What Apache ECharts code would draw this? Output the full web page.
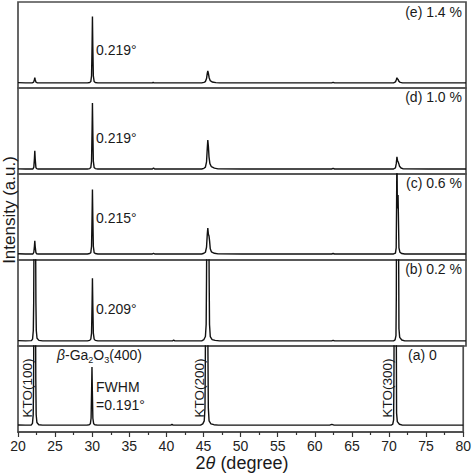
<!DOCTYPE html>
<html><head><meta charset="utf-8">
<script src="https://cdn.jsdelivr.net/npm/echarts@6/dist/echarts.min.js"></script>
<style>html,body{margin:0;padding:0;background:#fff}#c{width:474px;height:475px}</style>
</head><body><div id="c"></div>
<script>
// x-axis ticks
const xTicks = [20,25,30,35,40,45,50,55,60,65,70,75,80];
const panelNames = ['(e) 1.4 %','(d) 1.0 %','(c) 0.6 %','(b) 0.2 %','(a) 0'];
const fwhmLabels = ['0.219°','0.219°','0.215°','0.209°',''];
// [2theta, relative intensity] (panel scale 0-100, peaks above 100 are clipped)
const curveE = [[20,6.2],[21,6],[21.9,6],[22.1,6.8],[22.2,10],[22.25,12],[22.3,10],[22.4,6.8],[22.6,6],[24,6],[26,6],[28,6],
 [29.3,6],[29.6,6.4],[29.75,7.5],[29.85,14],[29.92,48],[29.97,83],[30.02,48],[30.09,14],[30.2,7.5],[30.35,6.4],[30.7,6],[33,6],[36,6],
 [38,6],[38.1,6.5],[38.2,6],[41,6],
 [44.6,6],[44.9,6.6],[45.1,7.5],[45.25,11],[45.35,17],[45.42,20],[45.5,17],[45.6,12],[45.75,8.5],[46,7],[46.5,6.2],[47,6],[50,6],[55,6],[58,6],
 [62,6],[62.2,6.6],[62.4,6],[65,6],[68,6],
 [70.3,6],[70.55,7],[70.68,10],[70.75,12],[70.82,10.5],[70.9,10],[71,8],[71.2,6.5],[71.5,6],[75,6],[80,6]];
const curveD = [[20,6],[21,5.8],[22,5.8],[22.12,8],[22.2,18],[22.25,27],[22.3,18],[22.4,7.5],[22.5,6.2],[22.7,5.8],[24,5.8],[26,5.8],[28,5.8],
 [29.3,5.8],[29.6,6.3],[29.75,7.5],[29.85,15],[29.92,50],[29.97,82.6],[30.02,50],[30.09,15],[30.2,7.5],[30.35,6.3],[30.7,5.8],[33,5.8],[36,5.8],
 [38,5.8],[38.15,7],[38.3,5.8],[41,5.8],
 [44.6,5.8],[44.9,6.6],[45.1,8],[45.25,14],[45.35,30],[45.42,39.5],[45.5,32],[45.58,20],[45.7,12],[45.9,8.5],[46.3,6.8],[46.8,6],[50,5.8],[55,5.8],[58,5.8],
 [62,5.8],[62.2,6.5],[62.4,5.8],[65,5.8],[68,5.8],
 [70.3,5.8],[70.55,7],[70.66,12],[70.75,20],[70.84,15],[70.92,14],[71,12],[71.1,9],[71.3,7],[71.6,6],[75,5.8],[80,5.8]];
const curveC = [[20,7.2],[21,7],[22,7],[22.12,9],[22.2,16],[22.25,22.4],[22.3,16],[22.4,8.5],[22.5,7.3],[22.7,7],[24,7],[26,7],[28,7],
 [29.3,7],[29.6,7.5],[29.75,8.5],[29.85,16],[29.92,50],[29.97,82],[30.02,50],[30.09,16],[30.2,8.5],[30.35,7.5],[30.7,7],[33,7],[36,7],
 [38,7],[38.15,7.6],[38.3,7],[41,7],
 [44.6,7],[44.9,7.8],[45.1,9],[45.25,15],[45.35,30],[45.42,37],[45.5,30],[45.58,28],[45.66,22],[45.75,13],[45.9,9.5],[46.3,7.8],[46.8,7.1],[50,7],[55,7],[58,7],
 [62,7],[62.2,7.6],[62.4,7],[65,7],[68,7],
 [70.3,7],[70.55,8],[70.65,14],[70.7,60],[70.75,130],[70.8,70],[70.85,60],[70.9,75.6],[70.95,50],[71.02,14],[71.15,9],[71.4,7.5],[71.8,7],[75,7],[80,7]];
const curveB = [[20,6.2],[21,6],[21.8,6.2],[21.95,8],[22.05,18],[22.1,50],[22.15,140],[22.25,250],[22.35,140],[22.4,50],[22.45,18],[22.55,9],[22.8,6.5],[23.3,6],[26,6],[28,6],
 [29.3,6],[29.6,6.5],[29.75,8],[29.85,15],[29.92,48],[29.97,78.7],[30.02,48],[30.09,15],[30.2,8],[30.35,6.5],[30.7,6],[33,6],[37,6],
 [40.7,6],[40.85,6.7],[41,6],[43,6],
 [44.6,6],[44.9,7.5],[45.1,11],[45.2,25],[45.25,80],[45.3,160],[45.42,300],[45.55,160],[45.6,80],[45.65,25],[45.75,11],[46,7.5],[46.4,6.5],[47,6],[50,6],[55,6],[58,6],
 [62,6],[62.2,6.6],[62.4,6],[65,6],[68,6],
 [70.3,6],[70.5,7],[70.62,12],[70.67,60],[70.72,250],[70.78,300],[70.84,200],[70.9,250],[70.96,150],[71.02,20],[71.12,10],[71.4,7],[71.8,6],[75,6],[80,6]];
const curveA = [[20,8.2],[21,8],[21.8,8.2],[21.95,10],[22.05,20],[22.1,60],[22.16,180],[22.25,300],[22.34,180],[22.4,60],[22.45,20],[22.55,11],[22.8,8.5],[23.3,8],[26,8],[28,8],
 [29.3,8],[29.6,8.4],[29.75,9.5],[29.85,16],[29.92,48],[29.97,75.6],[30.02,48],[30.09,16],[30.2,9.5],[30.35,8.4],[30.7,8],[33,8],[37,8],
 [40.6,8],[40.75,8.8],[40.9,8],[43,8],
 [44.6,8],[44.9,9.5],[45.1,13],[45.2,28],[45.25,90],[45.3,200],[45.42,400],[45.55,200],[45.6,90],[45.65,28],[45.75,13],[46,9.5],[46.4,8.5],[47,8],[50,8],[55,8],[58,8],
 [62,8],[62.3,8.8],[62.6,8],[65,8],[68,8],
 [70.3,8],[70.5,9],[70.62,14],[70.67,70],[70.72,300],[70.78,400],[70.84,250],[70.9,300],[70.96,180],[71.02,22],[71.12,12],[71.4,9],[71.8,8],[75,8],[80,8]];
const curves = [curveE, curveD, curveC, curveB, curveA];

const chart = echarts.init(document.getElementById('c'), null, {renderer:'svg'});
const font = 'Liberation Sans, Arial, sans-serif';
const top0 = 2, ph = 86, L = 18, R = 8;
const grids = [], xAxes = [], yAxes = [], series = [];
for (let i = 0; i < 5; i++) {
  const last = i === 4;
  grids.push({left: L, right: R, top: top0 + i*ph, height: ph, show: true, borderColor: '#4d4d4d', borderWidth: 1.7, backgroundColor: 'transparent'});
  xAxes.push({gridIndex: i, type: 'value', min: xTicks[0], max: xTicks[xTicks.length-1], interval: 5,
    axisLine: {show: last, onZero: false, lineStyle: {color: '#444', width: 1.7}},
    axisTick: {show: last, inside: false, length: 5, lineStyle: {color: '#333', width: 1.2}},
    minorTick: {show: last, splitNumber: 2, length: 3, lineStyle: {color: '#333', width: 1.2}},
    axisLabel: {show: last, color: '#222', fontSize: 14, fontFamily: font, margin: 7},
    splitLine: {show: false}, minorSplitLine: {show: false}});
  yAxes.push({gridIndex: i, type: 'value', min: 0, max: 100, show: false, splitLine: {show: false}});
  series.push({type: 'line', xAxisIndex: i, yAxisIndex: i, data: curves[i], symbol: 'none', clip: true,
    lineStyle: {color: '#111', width: 1.4}, animation: false});
}
const graphic = [];
const txt = (x, y, text, opts) => Object.assign({type: 'text', x: x, y: y, z: 100,
  style: Object.assign({text: text, font: '14px ' + font, fill: '#1a1a1a', textVerticalAlign: 'middle'}, opts || {})});
const panelY = [12, 97, 183, 269, 355];
for (let i = 0; i < 5; i++) {
  if (i < 4) graphic.push(txt(462, panelY[i], panelNames[i], {textAlign: 'right'}));
  else graphic.push(txt(408, panelY[i], panelNames[i], {textAlign: 'left'}));
}
const fwY = [50, 138, 218, 309];
for (let i = 0; i < 4; i++) graphic.push(txt(96, fwY[i], fwhmLabels[i], {textAlign: 'left'}));
graphic.push(txt(57, 355, '{i|β}-Ga{s|2}O{s|3}(400)', {textAlign: 'left', rich: {
  i: {fontStyle: 'italic', fontSize: 14, fontFamily: font, lineHeight: 18, fill: '#1a1a1a'},
  s: {fontSize: 9, fontFamily: font, verticalAlign: 'bottom', lineHeight: 9, fill: '#1a1a1a'}}}));
graphic.push(txt(96, 387, 'FWHM', {textAlign: 'left'}));
graphic.push(txt(96, 405, '=0.191°', {textAlign: 'left'}));
const kto = [['KTO(100)', 27], ['KTO(200)', 199], ['KTO(300)', 387]];
kto.forEach(k => {
  const g = txt(k[1], 388, k[0], {textAlign: 'center', font: '13.5px ' + font});
  g.rotation = Math.PI / 2;
  graphic.push(g);
});
const yl = txt(9, 210, 'Intensity (a.u.)', {textAlign: 'center', font: '17px ' + font});
yl.rotation = Math.PI / 2;
graphic.push(yl);
graphic.push(txt(242, 463, '2{i|θ} (degree)', {textAlign: 'center', font: '18px ' + font, rich: {
  i: {fontStyle: 'italic', fontSize: 18, fontFamily: font, fill: '#1a1a1a'}}}));

chart.setOption({animation: false, grid: grids, xAxis: xAxes, yAxis: yAxes, series: series, graphic: graphic});
</script></body></html>
